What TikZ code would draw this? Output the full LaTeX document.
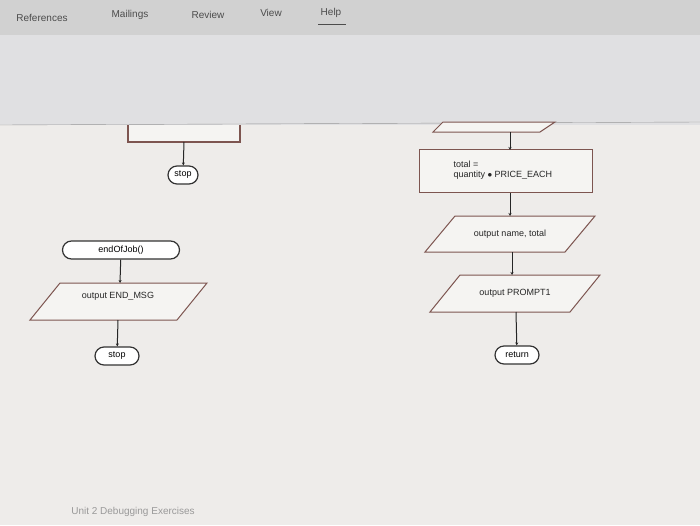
\documentclass[tikz,border=0pt]{standalone}
\usepackage{fontspec}
\setmainfont{Liberation Sans}
\usetikzlibrary{shapes.geometric,arrows.meta}
\definecolor{shp}{RGB}{125,85,80}
\definecolor{pg}{RGB}{238,236,234}
\begin{document}
\begin{tikzpicture}[x=1pt,y=-1pt,
 term/.style={draw=black!80,line width=1.2pt,rounded corners=9pt,fill=white,minimum height=18pt,font=\fontsize{9}{10}\selectfont,inner sep=1pt},
 io/.style={draw=shp,line width=1pt,fill=pg!60!white},
 lbl/.style={font=\fontsize{9}{10}\selectfont,text=black!85},
 fl/.style={draw=black!85,line width=1pt,-{Stealth[length=3pt,width=3pt]}},
 menu/.style={font=\fontsize{10}{12}\selectfont,text=black!70}]
\useasboundingbox (0,0) rectangle (700,525);
\fill[pg] (0,0) rectangle (700,525);
\fill[blue!5!black!12] (0,0) rectangle (700,125);
\fill[black!18] (0,0) rectangle (700,35);
\draw[black!40] (0,125) -- (700,122);
\node[menu] (m1) at (42,18) {References};
\node[menu] (m2) at (130,15) {Mailings};
\node[menu] (m3) at (208,15) {Review};
\node[menu] (m4) at (271,13) {View};
\node[menu] (m5) at (331,13) {Help};
\draw[black!70,line width=1pt] (318,24) -- (346,24);
% left column
\draw[draw=shp,line width=1.2pt,fill=pg!60!white] (128,125) -- (128,142) -- (240,142) -- (240,125);
\coordinate (lt) at (184,142);
\node[term,minimum width=30pt] (stop1) at (183,175) {stop};
\draw[fl] (lt) -- (stop1);
\node[term,minimum width=117pt] (eoj) at (121,250) {endOfJob()};
\draw[io] (30,320) -- (60,283) -- (207,283) -- (177,320) -- cycle;
\node[lbl] (out1) at (118,296) {output END\_MSG};
\draw[fl] (eoj) -- (120,283);
\node[term,minimum width=44pt] (stop2) at (117,356) {stop};
\draw[fl] (118,320) -- (stop2);
% right column
\draw[io] (433,132) -- (443,122) -- (555,122) -- (540,132) -- cycle;
\node[draw=shp,line width=1.2pt,fill=pg!60!white,minimum width=173pt,minimum height=43pt] (calc) at (506,171) {};
\node[lbl,align=left,anchor=north west] (calct) at (450,157) {total =\\quantity $\bullet$ PRICE\_EACH};
\draw[fl] (510,132) -- (510,150);
\draw[io] (425,252) -- (455,216) -- (595,216) -- (565,252) -- cycle;
\node[lbl] (out2) at (510,234) {output name, total};
\draw[fl] (510,193) -- (510,216);
\draw[io] (430,312) -- (460,275) -- (600,275) -- (570,312) -- cycle;
\node[lbl] (out3) at (515,293) {output PROMPT1};
\draw[fl] (512,252) -- (512,275);
\node[term,minimum width=44pt] (ret) at (517,355) {return};
\draw[fl] (516,312) -- (ret);
\node[font=\fontsize{10}{12}\selectfont,text=black!40] (foot) at (133,512) {Unit 2 Debugging Exercises};
\end{tikzpicture}
\end{document}
